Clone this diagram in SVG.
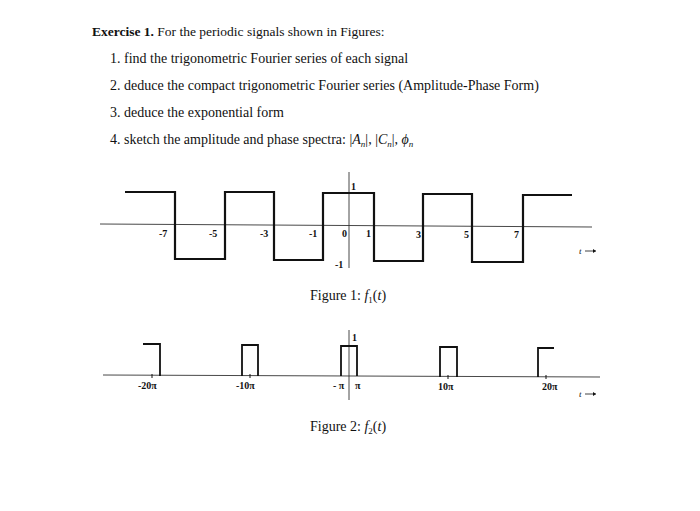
<svg xmlns="http://www.w3.org/2000/svg" width="700" height="511" viewBox="0 0 700 511">
<style>
text{font-family:"Liberation Serif","DejaVu Serif",serif;fill:#111}
.t{font-size:13.5px}
.i{font-size:14px}
.s{font-size:10px;font-weight:bold}
.w{fill:none;stroke:#111;stroke-width:2.2}
.a{fill:none;stroke:#333;stroke-width:0.9}
</style>
<rect width="700" height="511" fill="#fff"/>
<text class="t" x="92" y="36"><tspan font-weight="bold">Exercise 1.</tspan> For the periodic signals shown in Figures:</text>
<text class="i" x="110" y="63">1. find the trigonometric Fourier series of each signal</text>
<text class="i" x="110" y="90">2. deduce the compact trigonometric Fourier series (Amplitude-Phase Form)</text>
<text class="i" x="110" y="117">3. deduce the exponential form</text>
<text class="i" x="110" y="144">4. sketch the amplitude and phase spectra: |<tspan font-style="italic">A</tspan><tspan font-size="9" font-style="italic" dy="3">n</tspan><tspan dy="-3">|, |</tspan><tspan font-style="italic">C</tspan><tspan font-size="9" font-style="italic" dy="3">n</tspan><tspan dy="-3">|, </tspan><tspan font-style="italic">ϕ</tspan><tspan font-size="9" font-style="italic" dy="3">n</tspan></text>
<!-- Figure 1 -->
<line class="a" x1="100" y1="224" x2="592" y2="227"/>
<line class="a" x1="349" y1="172" x2="349" y2="268"/>
<polyline class="w" points="125,192 175,192 175,259 225,259 225,192 274,192 274,260 323,260 323,193 374,193 374,261 423,261 423,194 472,194 472,262 523,262 523,195 572,195"/>
<g class="s">
<text x="159" y="237">-7</text><text x="209" y="237">-5</text><text x="260" y="237">-3</text><text x="309" y="237">-1</text>
<text x="342" y="237">0</text><text x="366" y="237">1</text><text x="416" y="238">3</text><text x="464" y="238">5</text><text x="514" y="238">7</text>
<text x="351" y="190">1</text><text x="335" y="268">-1</text>
</g>
<text x="579" y="254" font-size="9" font-style="italic">t</text>
<line x1="585" y1="251" x2="596" y2="251" stroke="#111" stroke-width="0.8"/><path d="M596,251 l-3,-2 v4z" fill="#111"/>
<text class="i" x="310" y="300">Figure 1: <tspan font-style="italic">f</tspan><tspan font-size="9" dy="3">1</tspan><tspan dy="-3">(</tspan><tspan font-style="italic">t</tspan>)</text>
<!-- Figure 2 -->
<line class="a" x1="103" y1="375" x2="600" y2="377"/>
<line class="a" x1="349" y1="330" x2="349" y2="400"/>
<g stroke="#111" stroke-width="1"><line x1="152" y1="374" x2="152" y2="378"/><line x1="250" y1="374" x2="250" y2="378"/><line x1="448" y1="375" x2="448" y2="379"/><line x1="546" y1="375" x2="546" y2="379"/></g>
<g class="w" style="stroke-width:1.8">
<polyline points="143,344 160,344 160,376"/>
<polyline points="242,376 242,345 258,345 258,376"/>
<polyline points="341,376 341,346 357,346 357,376"/>
<polyline points="440,377 440,347 457,347 457,377"/>
<polyline points="538,377 538,348 554,348"/>
</g>
<g class="s">
<text x="138" y="389">-20π</text><text x="236" y="389">-10π</text><text x="333" y="389">- π</text><text x="355" y="389">π</text>
<text x="438" y="390">10π</text><text x="542" y="390">20π</text><text x="352" y="341">1</text>
</g>
<text x="579" y="397" font-size="9" font-style="italic">t</text>
<line x1="585" y1="394" x2="596" y2="394" stroke="#111" stroke-width="0.8"/><path d="M596,394 l-3,-2 v4z" fill="#111"/>
<text class="i" x="310" y="431">Figure 2: <tspan font-style="italic">f</tspan><tspan font-size="9" dy="3">2</tspan><tspan dy="-3">(</tspan><tspan font-style="italic">t</tspan>)</text>
</svg>
